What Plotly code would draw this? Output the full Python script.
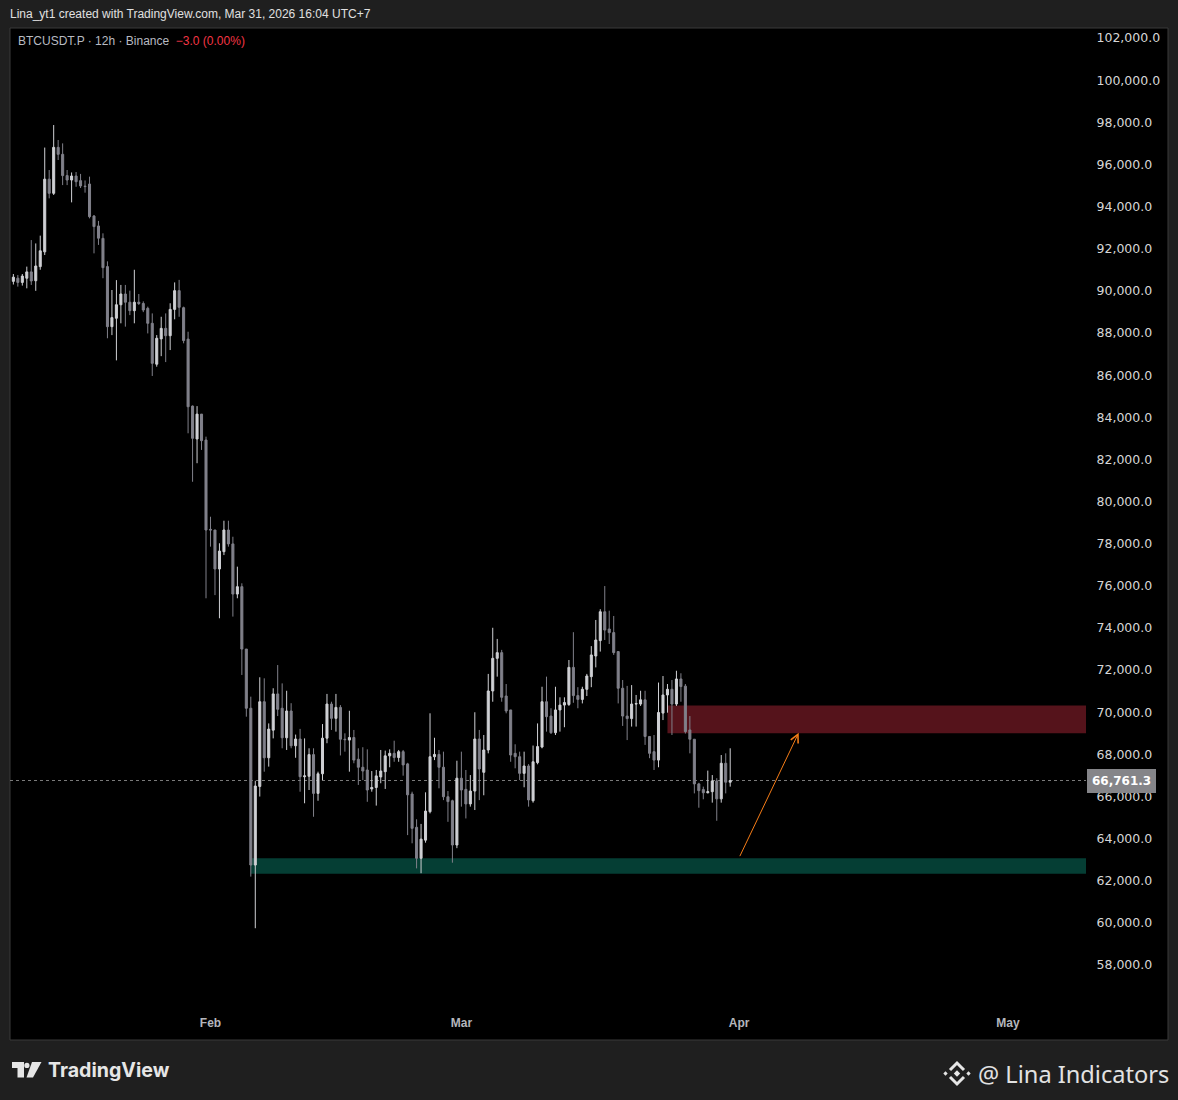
import plotly.graph_objects as go
import pandas as pd

# BTCUSDT.P 12h candles, Jan 10 - Mar 31 2026
opens = [90450, 90600, 90400, 90600, 90900, 90480, 91150, 91850, 95300, 94630,
         96810, 96480, 95470, 95260, 95450, 95230, 94970, 95070, 93550, 93080,
         92490, 91150, 88300, 88700, 89340, 89850, 89460, 89060, 89460, 89400,
         89170, 88460, 86520, 87720, 88220, 87870, 89120, 90010, 89200, 87710,
         84530, 82970, 84150, 82920, 78680, 78650, 76800, 77620, 78650, 77990,
         75610, 75960, 73000, 70190, 62750, 66480, 70500, 67840, 69150, 70870,
         70190, 68790, 70060, 68410, 68730, 66940, 66960, 67990, 66150, 67080,
         68770, 70390, 69710, 70230, 68720, 68680, 68800, 67770, 67390, 67260,
         66360, 66430, 66930, 67180, 67930, 68050, 67850, 68130, 67550, 66120,
         64540, 63070, 63930, 65280, 67890, 68000, 67390, 65990, 65800, 63700,
         66870, 66340, 65650, 66260, 68730, 67150, 68210, 71010, 72560, 72830,
         70770, 70110, 68050, 67890, 67100, 67450, 65800, 67610, 68350, 70500,
         69820, 69030, 70110, 70340, 70370, 72130, 70790, 70610, 71090, 71690,
         72670, 73400, 74770, 73950, 73780, 72880, 71140, 69820, 69700, 70390,
         70390, 70590, 68850, 68130, 67730, 69960, 70820, 71090, 70390, 71580,
         71240, 69160, 68720, 66600, 66330, 66180, 66230, 66740, 65890, 67580,
         66680]
highs = [90800, 90750, 90800, 91150, 92410, 92250, 92620, 96800, 95735, 97870,
         97160, 97000, 95735, 95620, 95640, 95550, 95240, 95420, 93600, 93320,
         92730, 91400, 90040, 90510, 90280, 90280, 90010, 91000, 89850, 89500,
         89250, 88930, 87900, 88770, 88930, 89410, 90400, 90520, 89250, 88060,
         84560, 84530, 84150, 83080, 79280, 78650, 78020, 79090, 79090, 78330,
         76910, 76120, 73000, 70740, 66750, 71660, 71610, 69470, 71140, 72240,
         71370, 71020, 70430, 68940, 69210, 68760, 68290, 68290, 67180, 69440,
         70870, 70500, 70870, 70340, 69000, 70070, 69160, 68290, 68340, 68240,
         67210, 67260, 68210, 68180, 68240, 68650, 68210, 68210, 67600, 66230,
         64920, 64700, 66200, 69950, 68790, 68210, 68130, 66260, 65850, 67700,
         68130, 67260, 67020, 70000, 69160, 68920, 71820, 74010, 73480, 72960,
         71340, 70110, 68480, 68130, 68130, 67540, 68420, 69470, 71210, 71690,
         70190, 71210, 70710, 70710, 72480, 73800, 71190, 71210, 71820, 73140,
         74380, 74890, 75990, 74820, 74570, 72880, 71530, 71250, 71290, 70820,
         71020, 71020, 68850, 68920, 71410, 71720, 71340, 71530, 71970, 71850,
         71340, 69820, 68720, 66650, 66470, 67230, 67020, 66870, 67970, 68050,
         68290]
lows = [90300, 90200, 90250, 90120, 90280, 90000, 91000, 91700, 94390, 94550,
        96210, 95020, 95020, 94200, 94940, 94880, 94660, 93440, 91780, 92180,
        90600, 87750, 87900, 86700, 88460, 88300, 88850, 88460, 89330, 88990,
        87980, 85960, 86400, 86900, 86620, 87190, 88650, 88770, 87510, 83240,
        80940, 81820, 82450, 75410, 77860, 75560, 74460, 77460, 77860, 74540,
        75410, 71770, 69790, 62200, 59750, 66000, 67180, 67420, 68760, 69820,
        68290, 68210, 68290, 67840, 66230, 65680, 66310, 65040, 65800, 66780,
        68530, 69160, 69080, 67950, 68130, 67180, 67580, 66550, 66780, 65750,
        66230, 65570, 66630, 66360, 67390, 67650, 67650, 66990, 64170, 63780,
        62590, 62360, 63810, 65200, 67730, 66390, 65830, 64800, 62860, 63550,
        65520, 64960, 65520, 65360, 65830, 66060, 68050, 70500, 71690, 70500,
        69950, 67650, 67340, 66780, 66440, 65520, 65710, 67530, 68290, 69080,
        68970, 68920, 69080, 69290, 70300, 70450, 70190, 70420, 70770, 71190,
        72130, 72880, 73430, 73240, 72720, 70420, 69350, 68680, 69320, 69320,
        70300, 68450, 67820, 67260, 67390, 69630, 69980, 68920, 70300, 70500,
        68990, 68050, 66150, 65470, 65870, 66150, 65710, 64850, 65710, 66150,
        66470]
closes = [90650, 90400, 90700, 90900, 90470, 91180, 91900, 95300, 94630, 96810,
          96480, 95470, 95260, 95450, 95180, 94980, 94950, 93520, 93050, 92500,
          91100, 88300, 88730, 89340, 89850, 89460, 89060, 89460, 89400, 89090,
          88460, 86560, 87750, 88220, 87870, 89120, 90010, 89220, 87640, 84500,
          83000, 84150, 82890, 78650, 78650, 76800, 77650, 78650, 77990, 75610,
          75960, 73000, 70190, 62750, 66500, 70500, 67840, 69200, 70870, 70140,
          68790, 70060, 68410, 68730, 66940, 66980, 67990, 66150, 67080, 68770,
          70390, 69710, 70230, 68720, 68700, 68800, 67730, 67390, 67210, 66310,
          66430, 66980, 67210, 67930, 68050, 67850, 68130, 67500, 66080, 64490,
          63070, 63980, 65310, 67890, 68000, 67390, 65990, 65760, 63700, 66870,
          66310, 65650, 66260, 68730, 67310, 68210, 71010, 72560, 72830, 70710,
          70060, 67970, 67890, 67100, 67450, 65840, 67650, 68370, 70500, 69790,
          69030, 70110, 70340, 70460, 72130, 70790, 70610, 71090, 71720, 72720,
          73430, 74770, 73900, 73780, 72830, 71140, 69820, 69700, 70390, 70410,
          70590, 68850, 68050, 67730, 69990, 70820, 71090, 70390, 71580, 71220,
          69080, 68720, 66600, 66280, 66180, 66230, 66740, 65890, 67580, 66680,
          66761.3]

times = pd.date_range("2026-01-10 00:00", periods=len(closes), freq="12h")
last_price = 66761.3

month_ticks = ["2026-02-01", "2026-03-01", "2026-04-01", "2026-05-01"]
month_labels = ["Feb", "Mar", "Apr", "May"]
price_ticks = list(range(58000, 102001, 2000))

# drawn zones / arrow
supply_zone = (69000, 70320)
demand_zone = (62340, 63070)

# pixel helpers for decorations outside the plot
PL, PR, PT, PB = 10, 1086, 28, 1008
def px(x):
    return (x - PL) / (PR - PL)
def py(y):
    return (PB - y) / (PB - PT)

fig = go.Figure(go.Candlestick(
    x=times, open=opens, high=highs, low=lows, close=closes,
    increasing=dict(line=dict(color="#cfd0d4", width=1), fillcolor="#cfd0d4"),
    decreasing=dict(line=dict(color="#80808a", width=1), fillcolor="#80808a"),
    whiskerwidth=0, showlegend=False, hoverinfo="skip"))

# panel background + border
fig.add_shape(type="rect", xref="paper", yref="paper", x0=0, x1=px(1168), y0=py(1040), y1=1,
              fillcolor="#000000", line=dict(color="#3a3a3a", width=1), layer="below")

fig.add_shape(type="rect", xref="x", yref="y", x0=times[146], x1="2026-05-09 17:00",
              y0=supply_zone[0], y1=supply_zone[1], fillcolor="#55131b", line_width=0, layer="below")
fig.add_shape(type="rect", xref="x", yref="y", x0=times[53], x1="2026-05-09 17:00",
              y0=demand_zone[0], y1=demand_zone[1], fillcolor="#053e34", line_width=0, layer="below")
fig.add_shape(type="line", xref="paper", yref="y", x0=0, x1=1, y0=last_price, y1=last_price,
              line=dict(color="#7a7a7a", width=1, dash="dot"), layer="below")

fig.add_annotation(x="2026-04-07 15:30", y=69030, ax="2026-04-01 00:00", ay=63100,
                   xref="x", yref="y", axref="x", ayref="y", text="", showarrow=True,
                   arrowhead=5, arrowsize=1.6, arrowwidth=1, arrowcolor="#f57c17")

# last price label
fig.add_annotation(x=1, xref="paper", y=last_price, yref="y", xanchor="left", xshift=1,
                   text="<b>66,761.3</b>", showarrow=False, bgcolor="#858589",
                   bordercolor="#858589", borderwidth=1, borderpad=4,
                   font=dict(family="DejaVu Sans", size=12, color="#ffffff"))

# header texts
fig.add_annotation(x=px(8), y=py(14), xref="paper", yref="paper", xanchor="left", yanchor="middle",
                   text="Lina_yt1 created with TradingView.com, Mar 31, 2026 16:04 UTC+7",
                   showarrow=False, font=dict(family="Liberation Sans", size=12, color="#e0e0e0"))
fig.add_annotation(x=px(16), y=py(41), xref="paper", yref="paper", xanchor="left", yanchor="middle",
                   text="BTCUSDT.P · 12h · Binance  <span style='color:#f23645'>\u22123.0 (0.00%)</span>",
                   showarrow=False, font=dict(family="Liberation Sans", size=12, color="#b8bbc2"))

# footer
fig.add_annotation(x=px(46), y=py(1070), xref="paper", yref="paper", xanchor="left", yanchor="middle",
                   text="<b>TradingView</b>", showarrow=False,
                   font=dict(family="Inter", size=19.6, color="#e6e6e6"))
fig.add_annotation(x=px(1171), y=py(1074), xref="paper", yref="paper", xanchor="right", yanchor="middle",
                   text="@ Lina Indicators", showarrow=False,
                   font=dict(family="Noto Sans", size=23.6, color="#e2e2e2"))

def poly(pts):
    return "M " + " L ".join(f"{px(a)},{py(b)}" for a, b in pts) + " Z"

def open_path(pts):
    return "M " + " L ".join(f"{px(a)},{py(b)}" for a, b in pts)

logo_col = "#e6e6e6"
# TradingView logo
fig.add_shape(type="path", xref="paper", yref="paper", line_width=0, fillcolor=logo_col,
              path=poly([(12, 1062), (24, 1062), (24, 1077.5), (17.5, 1077.5), (17.5, 1068), (12, 1068)]))
fig.add_shape(type="circle", xref="paper", yref="paper", line_width=0, fillcolor=logo_col,
              x0=px(24.3), x1=px(29.5), y0=py(1068), y1=py(1062.8))
fig.add_shape(type="path", xref="paper", yref="paper", line_width=0, fillcolor=logo_col,
              path=poly([(32, 1062), (41.5, 1062), (33, 1077.5), (26.5, 1077.5)]))

# binance-style icon
cx, cy = 957, 1073.5
for dx, r in [(0, 3.2), (-11.5, 2.2), (11.5, 2.2)]:
    fig.add_shape(type="path", xref="paper", yref="paper", line_width=0, fillcolor=logo_col,
                  path=poly([(cx + dx - r, cy), (cx + dx, cy - r), (cx + dx + r, cy), (cx + dx, cy + r)]))
fig.add_shape(type="path", xref="paper", yref="paper", line=dict(color=logo_col, width=3),
              path=open_path([(cx - 7, cy - 3.5), (cx, cy - 10.5), (cx + 7, cy - 3.5)]))
fig.add_shape(type="path", xref="paper", yref="paper", line=dict(color=logo_col, width=3),
              path=open_path([(cx - 7, cy + 3.5), (cx, cy + 10.5), (cx + 7, cy + 3.5)]))

fig.update_layout(
    width=1178, height=1100,
    margin=dict(l=PL, r=1178 - PR, t=PT, b=1100 - PB),
    paper_bgcolor="#1f1f1f", plot_bgcolor="#000000",
    boxgap=0.35,
    xaxis=dict(type="date", range=["2026-01-09 15:00", "2026-05-09 17:00"],
               rangeslider=dict(visible=False), showgrid=False, zeroline=False,
               tickvals=month_ticks, ticktext=month_labels, ticks="outside", ticklen=4,
               tickcolor="#000000", showline=False,
               tickfont=dict(family="Liberation Sans", size=12, color="#b4b6bc", weight="bold")),
    yaxis=dict(side="right", range=[55964, 102475], showgrid=False, zeroline=False,
               tickvals=price_ticks, tickformat=",.1f", ticks="outside", ticklen=7,
               tickcolor="#000000", showline=False,
               tickfont=dict(family="DejaVu Sans", size=12.5, color="#d6d6d6")),
)

fig.write_html("out.html", config={"displayModeBar": False},
               post_script="document.body.style.margin='0';")
